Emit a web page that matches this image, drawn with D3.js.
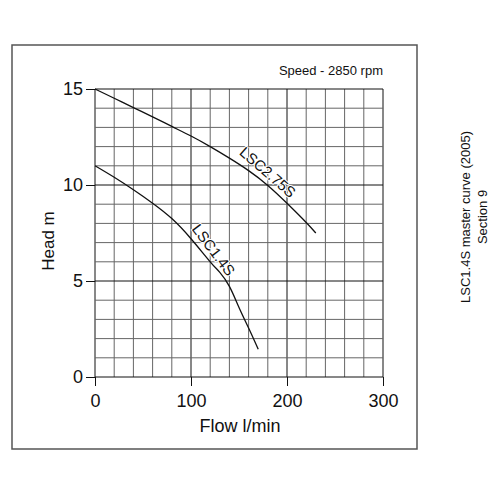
<!DOCTYPE html>
<html><head><meta charset="utf-8">
<script src="https://cdn.jsdelivr.net/npm/d3@7"></script>
<style>body{margin:0;background:#fff}svg{display:block}text{font-family:"Liberation Sans",Arial,sans-serif;fill:#111}</style>
</head><body><svg id="c" width="500" height="500"></svg>
<script>
const xTicks = [0, 100, 200, 300];
const yTicks = [0, 5, 10, 15];
const lsc275Flow = [0, 20, 40, 60, 80, 100, 120, 140, 160, 180, 200, 220, 230];
const lsc275Head = [15, 14.52, 14.03, 13.55, 13.05, 12.55, 12.0, 11.4, 10.75, 9.98, 9.05, 8.05, 7.5];
const lsc14Flow = [0, 20, 40, 60, 80, 100, 120, 130, 140, 150, 160, 170];
const lsc14Head = [11, 10.4, 9.75, 9.05, 8.25, 7.2, 6.0, 5.45, 4.72, 3.62, 2.55, 1.45];
const seriesNames = ["LSC2.75S", "LSC1.4S"];
const labelFlow = [173, 115];
const labelAngle = [41, 53];

const svg = d3.select("#c");
const x = d3.scaleLinear().domain([0, 300]).range([95, 383]);
const y = d3.scaleLinear().domain([0, 15]).range([377, 89]);

// outer frame
svg.append("rect").attr("x", 12).attr("y", 45).attr("width", 405).attr("height", 404)
  .attr("fill", "none").attr("stroke", "#555").attr("stroke-width", 1.5);

// grid
const g = svg.append("g");
d3.range(0, 301, 20).forEach(v => {
  g.append("line").attr("x1", x(v)).attr("x2", x(v)).attr("y1", y(0)).attr("y2", y(15))
    .attr("stroke", v % 100 === 0 ? "#111" : "#666").attr("stroke-width", 1);
});
d3.range(0, 16, 1).forEach(v => {
  g.append("line").attr("x1", x(0)).attr("x2", x(300)).attr("y1", y(v)).attr("y2", y(v))
    .attr("stroke", v % 5 === 0 ? "#111" : "#666").attr("stroke-width", 1);
});

// axes
const ax = svg.append("g").attr("transform", `translate(0,${y(0)})`)
  .call(d3.axisBottom(x).tickValues(xTicks).tickSize(9).tickPadding(8).tickFormat(d3.format("d")));
const ay = svg.append("g").attr("transform", `translate(${x(0)},0)`)
  .call(d3.axisLeft(y).tickValues(yTicks).tickSize(9).tickPadding(3).tickFormat(d3.format("d")));
[ax, ay].forEach(a => {
  a.select(".domain").remove();
  a.selectAll("line").attr("stroke", "#111");
  a.selectAll("text").attr("font-size", 18).attr("fill", "#111")
    .style("font-family", '"Liberation Sans",Arial,sans-serif');
});

// curves
const line = d3.line().x(d => x(d[0])).y(d => y(d[1])).curve(d3.curveNatural);
const curves = [d3.zip(lsc275Flow, lsc275Head), d3.zip(lsc14Flow, lsc14Head)];
const paths = curves.map(c =>
  svg.append("path").attr("d", line(c)).attr("fill", "none").attr("stroke", "#111").attr("stroke-width", 1.3).node()
);
// labels sit just above the curve at the given flow
seriesNames.forEach((n, i) => {
  const p = paths[i];
  const L = p.getTotalLength();
  let lo = 0, hi = L;
  const tx = x(labelFlow[i]);
  for (let k = 0; k < 40; k++) { const m = (lo + hi) / 2; if (p.getPointAtLength(m).x < tx) lo = m; else hi = m; }
  const pt = p.getPointAtLength(lo);
  svg.append("text").attr("transform", `translate(${pt.x},${pt.y}) rotate(${labelAngle[i]})`)
    .attr("text-anchor", "middle").attr("y", -5).attr("font-size", 15)
    .attr("stroke", "#fff").attr("stroke-width", 2).attr("paint-order", "stroke").text(n);
});

// titles
svg.append("text").attr("x", x(300)).attr("y", 75).attr("text-anchor", "end").attr("font-size", 13).text("Speed - 2850 rpm");
svg.append("text").attr("x", 240).attr("y", 432).attr("text-anchor", "middle").attr("font-size", 18).text("Flow l/min");
svg.append("text").attr("transform", "translate(53.5,241) rotate(-90)").attr("text-anchor", "middle").attr("font-size", 17).text("Head m");
svg.append("text").attr("transform", "translate(470,217) rotate(-90)").attr("text-anchor", "middle").attr("font-size", 13).text("LSC1.4S master curve (2005)");
svg.append("text").attr("transform", "translate(487,217) rotate(-90)").attr("text-anchor", "middle").attr("font-size", 13).text("Section 9");
</script></body></html>
